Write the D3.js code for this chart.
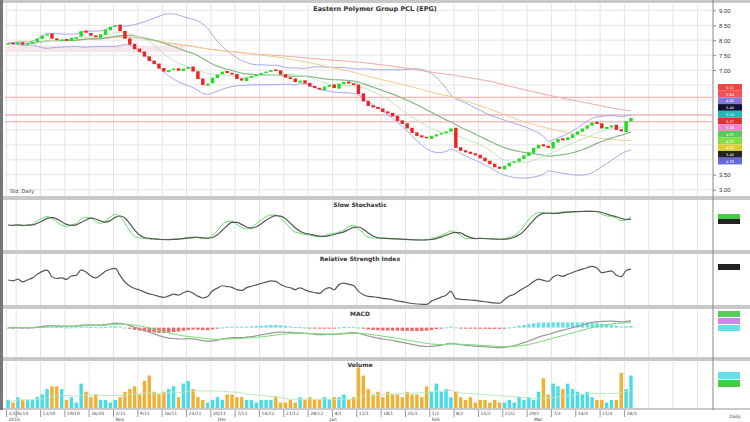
<!DOCTYPE html>
<html><head><meta charset="utf-8">
<script src="https://cdn.jsdelivr.net/npm/d3@7"></script>
<style>body{margin:0;background:#fff}svg{display:block;font-family:"DejaVu Sans",sans-serif}</style>
</head><body><div id="chart"></div>
<script>
// daily closes
var closes = [7.90,7.88,7.92,7.85,7.90,7.95,8.05,8.15,8.20,8.05,8.00,8.02,7.98,8.08,8.10,8.30,8.25,8.15,8.10,8.20,
8.35,8.45,8.50,8.30,8.05,7.85,7.70,7.60,7.45,7.30,7.20,7.05,6.95,7.00,7.05,6.98,7.05,7.10,6.95,6.70,
6.50,6.55,6.75,6.85,6.95,6.90,6.85,6.70,6.65,6.75,6.80,6.85,6.90,6.95,7.00,6.98,6.85,6.75,6.70,6.60,
6.65,6.55,6.45,6.40,6.35,6.45,6.50,6.40,6.55,6.60,6.55,6.50,6.20,5.95,5.80,5.75,5.70,5.60,5.55,5.45,
5.30,5.20,5.05,4.90,4.80,4.75,4.72,4.80,4.85,4.90,4.95,5.05,4.40,4.30,4.25,4.20,4.15,4.05,3.95,3.85,
3.75,3.70,3.80,3.90,3.95,4.05,4.15,4.25,4.40,4.50,4.45,4.40,4.60,4.70,4.65,4.75,4.85,4.95,5.05,5.15,
5.25,5.20,5.05,5.10,5.15,5.00,4.95,5.30,5.40];
var opens = [7.85,7.92,7.86,7.93,7.84,7.88,7.94,8.04,8.16,8.22,8.06,7.98,8.04,7.97,8.07,8.12,8.32,8.24,8.16,8.08,
8.18,8.33,8.46,8.52,8.31,8.06,7.88,7.72,7.62,7.46,7.32,7.22,7.07,6.93,7.01,7.06,6.97,7.04,7.12,6.96,
6.72,6.48,6.56,6.73,6.86,6.97,6.91,6.87,6.72,6.63,6.74,6.81,6.84,6.91,6.94,7.02,6.99,6.86,6.76,6.72,
6.58,6.66,6.57,6.47,6.41,6.33,6.44,6.52,6.38,6.53,6.62,6.56,6.52,6.22,5.97,5.82,5.77,5.72,5.62,5.57,
5.47,5.32,5.22,5.07,4.92,4.82,4.77,4.70,4.78,4.86,4.89,4.94,5.07,4.42,4.32,4.27,4.22,4.17,4.07,3.97,
3.87,3.77,3.68,3.78,3.91,3.94,4.03,4.13,4.23,4.38,4.52,4.47,4.38,4.58,4.72,4.66,4.73,4.84,4.94,5.04,
5.14,5.27,5.22,5.03,5.08,5.17,5.02,4.93,5.28];
var volumes = [3,2,4,3,3,3,4,5,7,8,8,7,3,4,2,9,6,4,5,3,3,2,3,4,6,7,8,5,10,12,6,5,6,7,8,4,9,10,7,4,
3,2,3,4,3,5,5,4,4,3,3,2,3,3,3,4,2,2,3,2,4,3,4,3,3,4,3,4,4,5,3,4,15,12,7,5,6,4,6,5,
5,4,6,5,5,4,8,6,9,6,7,4,6,4,3,4,2,3,3,2,3,2,2,3,2,4,3,4,3,6,11,5,9,8,7,9,7,6,5,6,
4,3,3,2,3,3,13,7,12];
var levels = [6.09, 5.50, 5.27];
var priceTicks = [9,8.5,8,7.5,7,6.5,6,5.5,5,4.5,4,3.5,3];
var priceLabels = [9,8.5,8,7.5,7,3.5,3];
var panelTitles = ["Eastern Polymer Group PCL (EPG)","Slow Stochastic","Relative Strength Index","MACD","Volume"];

var W = 750, H = 422, left = 5, right = 712, nSlots = 145;
var n = closes.length;
var svg = d3.select("#chart").append("svg").attr("width", W).attr("height", H);
svg.append("rect").attr("width", W).attr("height", H).attr("fill", "#fff");

var x = d3.scaleBand().domain(d3.range(nSlots)).range([left, right]).padding(0.3);
var xc = function(i){ return x(i) + x.bandwidth()/2; };

// trading days (weekdays) from Oct 1 2015
var dates = [];
var dd = new Date(2015, 9, 1);
while (dates.length < nSlots) { if (dd.getDay() % 6 !== 0) dates.push(new Date(dd)); dd = d3.timeDay.offset(dd, 1); }

function sma(arr, p) { return arr.map(function(v, i){ return d3.mean(arr.slice(Math.max(0, i-p+1), i+1)); }); }
function ema(arr, p) { var k = 2/(p+1), out = []; arr.forEach(function(v,i){ out.push(i ? v*k + out[i-1]*(1-k) : v); }); return out; }
function sd(arr, p) { return arr.map(function(v, i){ return d3.deviation(arr.slice(Math.max(0,i-p+1), i+1)) || 0; }); }

var ma20 = sma(closes, 20), ma50 = sma(closes, 50), ma100 = sma(closes, 100), dev = sd(closes, 20);
var bbU = ma20.map(function(m,i){ return m + 2*dev[i]; }), bbL = ma20.map(function(m,i){ return m - 2*dev[i]; });
var ma10 = sma(closes, 10);

var panels = [{y0: 4, y1: 196}, {y0: 200, y1: 250}, {y0: 255, y1: 305}, {y0: 310, y1: 357}, {y0: 362, y1: 408}];
panels.forEach(function(p){
  svg.append("rect").attr("x", 0).attr("y", p.y1).attr("width", W).attr("height", 4).attr("fill", "#c8c8c8");
});
svg.append("rect").attr("x", 0).attr("y", 0).attr("width", W).attr("height", 3).attr("fill", "#c8c8c8");
svg.append("rect").attr("x", 0).attr("y", 0).attr("width", 3).attr("height", 410).attr("fill", "#777");
svg.append("line").attr("x1", right+1).attr("x2", right+1).attr("y1", 0).attr("y2", 410).attr("stroke", "#888");

// vertical grid each week
var weekStarts = d3.range(nSlots).filter(function(i){ return i === 0 || dates[i].getDay() < dates[i-1].getDay(); });
panels.forEach(function(p){
  svg.append("g").selectAll("line").data(weekStarts).join("line")
    .attr("x1", function(i){ return x(i); }).attr("x2", function(i){ return x(i); })
    .attr("y1", p.y0).attr("y2", p.y1).attr("stroke", "#e4e4e4");
});

// ---- price panel
var y = d3.scaleLinear().domain([2.79, 9.21]).range([196, 4]);
svg.append("g").selectAll("line").data(priceTicks).join("line")
  .attr("x1", left).attr("x2", right).attr("y1", y).attr("y2", y).attr("stroke", "#e4e4e4");
svg.append("g").attr("transform", "translate(" + (right+1) + ",0)")
  .call(d3.axisRight(y).tickValues(priceLabels).tickFormat(d3.format(".2f")).tickSize(3))
  .call(function(g){ g.select(".domain").remove(); g.selectAll("text").attr("font-size", 6).attr("fill", "#333"); g.selectAll("line").attr("stroke", "#888"); });

svg.append("rect").attr("x", left).attr("y", y(7.82)).attr("width", 180).attr("height", y(7.6)-y(7.82)).attr("fill", "#f4e6ea");
svg.append("g").selectAll("line").data(levels).join("line")
  .attr("x1", left).attr("x2", right).attr("y1", y).attr("y2", y).attr("stroke", "#f0a0a0");

var line = d3.line().x(function(d,i){ return xc(i); }).curve(d3.curveMonotoneX);
function priceLine(arr, color, w) {
  svg.append("path").datum(arr).attr("fill", "none").attr("stroke", color).attr("stroke-width", w || 1)
    .attr("d", line.y(function(d){ return y(d); }));
}
priceLine(bbU, "#a8a8ee"); priceLine(bbL, "#a8a8ee");
priceLine(ma100, "#f2a8a8"); priceLine(ma50, "#f2cc90"); priceLine(ma20, "#88b888", 1.2); priceLine(ma10, "#bde8bd");

svg.append("g").selectAll("rect").data(closes).join("rect")
  .attr("x", function(d,i){ return x(i); }).attr("width", x.bandwidth())
  .attr("y", function(d,i){ return y(Math.max(d, opens[i])); })
  .attr("height", function(d,i){ return Math.max(1.5, Math.abs(y(d) - y(opens[i]))); })
  .attr("fill", function(d,i){ return d >= opens[i] ? "#22dd22" : "#ee2222"; });

svg.append("text").attr("x", 375).attr("y", 11).attr("text-anchor", "middle").attr("font-size", 6.5).attr("font-weight", "bold").attr("fill", "#333").text(panelTitles[0]);
svg.append("text").attr("x", 10).attr("y", 193).attr("font-size", 5).attr("fill", "#333").text("Std. Daily");

// current value boxes
var boxes = [[bbU, "#ee4444"], [ma100, "#ee5555"], [ma50, "#8877dd"], [closes, "#111133"], [ma10, "#22bbbb"], [levels, "#dd3333"],
  [opens, "#ee88cc"], [ma20, "#55cc55"], [ma20, "#88dd44"], [ma50, "#ddcc33"], [closes, "#222222"], [bbL, "#6666dd"]];
svg.append("g").selectAll("rect").data(boxes).join("rect")
  .attr("x", 718).attr("y", function(d,k){ return 84 + k*6.7; }).attr("width", 24).attr("height", 6.7)
  .attr("fill", function(d){ return d[1]; });
svg.append("g").selectAll("text").data(boxes).join("text")
  .attr("x", 730).attr("y", function(d,k){ return 89 + k*6.7; }).attr("text-anchor", "middle").attr("font-size", 3.6).attr("fill", "#fff")
  .text(function(d){ return d3.format(".2f")(d[0][d[0].length-1]); });

// ---- indicators
var kRaw = closes.map(function(c,i){ var s = closes.slice(Math.max(0,i-13), i+1); var lo = d3.min(s) - 0.15, hi = d3.max(s) + 0.15; return 100*(c-lo)/(hi-lo); });
var kSlow = sma(kRaw, 3), dSlow = sma(kSlow, 3);
var gains = closes.map(function(c,i){ return i ? Math.max(0, c-closes[i-1]) : 0.03; });
var losses = closes.map(function(c,i){ return i ? Math.max(0, closes[i-1]-c) : 0.03; });
var ag = ema(gains, 27), al = ema(losses, 27);
var rsi = ag.map(function(g,i){ return 100 - 100/(1+g/al[i]); });
var e12 = ema(closes, 12), e26 = ema(closes, 26);
var macd = e12.map(function(v,i){ return v - e26[i]; }), sig = ema(macd, 9);
var hist = macd.map(function(v,i){ return v - sig[i]; });

function panelLine(arr, sc, color, w) {
  svg.append("path").datum(arr).attr("fill", "none").attr("stroke", color).attr("stroke-width", w || 1)
    .attr("d", d3.line().x(function(d,i){ return xc(i); }).y(sc).curve(d3.curveMonotoneX));
}
function title(t, yy) { svg.append("text").attr("x", 360).attr("y", yy).attr("text-anchor", "middle").attr("font-size", 6).attr("font-weight", "bold").attr("fill", "#333").text(t); }

var ys = d3.scaleLinear().domain([-20, 120]).range([250, 200]);
panelLine(kSlow, ys, "#66dd66"); panelLine(dSlow, ys, "#555", 1.2);
title(panelTitles[1], 207);
svg.append("rect").attr("x", 718).attr("y", 214).attr("width", 22).attr("height", 10).attr("fill", "#44cc44");
svg.append("rect").attr("x", 718).attr("y", 219).attr("width", 22).attr("height", 5).attr("fill", "#222");

var yr = d3.scaleLinear().domain([10, 90]).range([305, 255]);
panelLine(rsi, yr, "#555", 1.2);
title(panelTitles[2], 261);
svg.append("rect").attr("x", 718).attr("y", 264).attr("width", 22).attr("height", 6).attr("fill", "#222");

var ym = d3.scaleLinear().domain([-0.75, 0.45]).range([357, 310]);
svg.append("g").selectAll("rect").data(hist).join("rect")
  .attr("x", function(d,i){ return x(i); }).attr("width", x.bandwidth())
  .attr("y", function(d){ return Math.min(ym(d), ym(0)); })
  .attr("height", function(d){ return Math.max(1, Math.abs(ym(d)-ym(0))); })
  .attr("fill", function(d){ return d >= 0 ? "#66e0e8" : "#ee6666"; });
panelLine(macd, ym, "#999", 1.2); panelLine(sig, ym, "#77dd77");
title(panelTitles[3], 316);
[["#55cc55", 311], ["#cc88ee", 318], ["#66e0e8", 325]].forEach(function(b){
  svg.append("rect").attr("x", 718).attr("y", b[1]).attr("width", 22).attr("height", 6).attr("fill", b[0]);
});

var yv = d3.scaleLinear().domain([0, 17]).range([408, 362]);
svg.append("g").selectAll("rect").data(volumes).join("rect")
  .attr("x", function(d,i){ return x(i); }).attr("width", x.bandwidth())
  .attr("y", yv).attr("height", function(d){ return yv(0) - yv(d); })
  .attr("fill", function(d,i){ return closes[i] >= opens[i] ? "#44dde8" : "#f0b030"; });
panelLine(sma(volumes, 20), yv, "#bde8bd");
title(panelTitles[4], 367);
[["#66e0e8", 372], ["#44cc44", 380]].forEach(function(b){
  svg.append("rect").attr("x", 718).attr("y", b[1]).attr("width", 22).attr("height", 7).attr("fill", b[0]);
});

// date axis
svg.append("rect").attr("x", 0).attr("y", 410).attr("width", W).attr("height", 12).attr("fill", "#fff");
var fmtD = d3.timeFormat("%-d/%-m"), fmtM = d3.timeFormat("%b");
var labWeeks = weekStarts.filter(function(i){ return i < n; });
svg.append("g").selectAll("text").data(labWeeks).join("text")
  .attr("x", function(i){ return x(i) + 2; }).attr("y", 415).attr("font-size", 4.5).attr("fill", "#444")
  .text(function(i){ return fmtD(dates[i]); });
svg.append("g").selectAll("line").data(labWeeks).join("line")
  .attr("x1", function(i){ return x(i); }).attr("x2", function(i){ return x(i); }).attr("y1", 410).attr("y2", 417).attr("stroke", "#999");
var monthStarts = d3.range(n).filter(function(i){ return i === 0 || dates[i].getMonth() !== dates[i-1].getMonth(); });
svg.append("g").selectAll("text").data(monthStarts).join("text")
  .attr("x", function(i){ return x(i) + 2; }).attr("y", 421).attr("font-size", 4.5).attr("fill", "#444")
  .text(function(i){ return i === 0 ? "2015" : fmtM(dates[i]); });
svg.append("text").attr("x", 735).attr("y", 418).attr("font-size", 4.5).attr("fill", "#444").attr("text-anchor", "middle").text("Daily");
</script></body></html>
